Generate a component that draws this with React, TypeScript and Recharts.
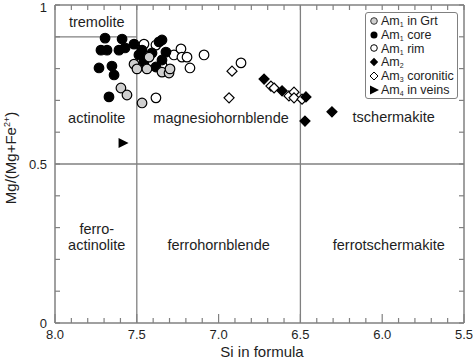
import React from "react";
import { ScatterChart, Scatter, XAxis, YAxis, ReferenceLine, ReferenceDot, Legend } from "recharts";

const FONT = '"Liberation Sans", Arial, sans-serif';
const AXIS = "#808080";
const INK = "#1e1e1e";

// tick positions (Si reversed, 8.0 -> 5.5)
const X_TICKS = [8.0, 7.9, 7.8, 7.7, 7.6, 7.5, 7.4, 7.3, 7.2, 7.1, 7.0, 6.9, 6.8, 6.7, 6.6, 6.5, 6.4, 6.3, 6.2, 6.1, 6.0, 5.9, 5.8, 5.7, 5.6, 5.5];
const X_LABELED = [8.0, 7.5, 7.0, 6.5, 6.0, 5.5];
const Y_TICKS = [0, 0.1, 0.2, 0.3, 0.4, 0.5, 0.6, 0.7, 0.8, 0.9, 1];
const Y_LABELED = [0, 0.5, 1];

// classification boundaries
const SI_BOUNDS = [7.5, 6.5];
const MG_BOUND = 0.5;
const TREMOLITE_MG = 0.9;

const FIELDS = [
  { name: "tremolite", si: 7.745, mg: 0.948 },
  { name: "actinolite", si: 7.745, mg: 0.645 },
  { name: "magnesiohornblende", si: 6.985, mg: 0.645 },
  { name: "tschermakite", si: 5.93, mg: 0.647 },
  { name: "ferro-", si: 7.745, mg: 0.296 },
  { name: "actinolite", si: 7.745, mg: 0.245 },
  { name: "ferrohornblende", si: 7.0, mg: 0.245 },
  { name: "ferrotschermakite", si: 5.96, mg: 0.245 },
];

const AM1_GRT = [
  { si: 7.517, mg: 0.814 }, { si: 7.499, mg: 0.799 }, { si: 7.438, mg: 0.799 }, { si: 7.425, mg: 0.836 },
  { si: 7.346, mg: 0.789 }, { si: 7.303, mg: 0.786 }, { si: 7.297, mg: 0.799 }, { si: 7.597, mg: 0.739 },
  { si: 7.56, mg: 0.717 }, { si: 7.468, mg: 0.692 },
];

const AM1_CORE = [
  { si: 7.694, mg: 0.896 }, { si: 7.59, mg: 0.893 }, { si: 7.719, mg: 0.858 }, { si: 7.682, mg: 0.858 },
  { si: 7.609, mg: 0.858 }, { si: 7.572, mg: 0.865 }, { si: 7.517, mg: 0.877 }, { si: 7.731, mg: 0.802 },
  { si: 7.652, mg: 0.808 }, { si: 7.639, mg: 0.78 }, { si: 7.67, mg: 0.711 }, { si: 7.468, mg: 0.858 },
  { si: 7.456, mg: 0.821 }, { si: 7.407, mg: 0.849 }, { si: 7.364, mg: 0.884 }, { si: 7.346, mg: 0.89 },
  { si: 7.322, mg: 0.852 }, { si: 7.383, mg: 0.805 }, { si: 7.346, mg: 0.827 }, { si: 7.487, mg: 0.843 },
];

const AM1_RIM = [
  { si: 7.456, mg: 0.877 }, { si: 7.383, mg: 0.874 }, { si: 7.346, mg: 0.811 }, { si: 7.273, mg: 0.843 },
  { si: 7.23, mg: 0.862 }, { si: 7.224, mg: 0.836 }, { si: 7.193, mg: 0.836 }, { si: 7.175, mg: 0.802 },
  { si: 7.089, mg: 0.843 }, { si: 7.383, mg: 0.708 }, { si: 6.863, mg: 0.818 },
];

const AM2 = [
  { si: 6.722, mg: 0.767 }, { si: 6.612, mg: 0.73 }, { si: 6.466, mg: 0.711 }, { si: 6.472, mg: 0.635 },
  { si: 6.307, mg: 0.664 },
];

const AM3 = [
  { si: 6.918, mg: 0.792 }, { si: 6.936, mg: 0.708 }, { si: 6.68, mg: 0.745 }, { si: 6.661, mg: 0.739 },
  { si: 6.57, mg: 0.714 }, { si: 6.539, mg: 0.726 }, { si: 6.539, mg: 0.708 }, { si: 6.49, mg: 0.704 },
];

const AM4 = [{ si: 7.584, mg: 0.566 }];

const same = (a: number, b: number) => Math.abs(a - b) < 1e-6;

// markers
const circle = (fill: string) => (p: any) => (
  <circle cx={p.cx} cy={p.cy} r={4.8} fill={fill} stroke="#000" strokeWidth={1.2} />
);
const diamond = (fill: string) => (p: any) => (
  <polygon
    points={`${p.cx},${p.cy - 5} ${p.cx + 5},${p.cy} ${p.cx},${p.cy + 5} ${p.cx - 5},${p.cy}`}
    fill={fill}
    stroke="#000"
    strokeWidth={1.2}
  />
);
const triangle = (p: any) => (
  <polygon points={`${p.cx - 4.5},${p.cy - 5} ${p.cx + 5.5},${p.cy} ${p.cx - 4.5},${p.cy + 5}`} fill="#000" />
);

const SERIES = [
  { key: "rim", data: AM1_RIM, shape: circle("#fff") },
  { key: "core", data: AM1_CORE, shape: circle("#000") },
  { key: "grt", data: AM1_GRT, shape: circle("#cfcfcf") },
  { key: "am3", data: AM3, shape: diamond("#fff") },
  { key: "am2", data: AM2, shape: diamond("#000") },
  { key: "am4", data: AM4, shape: triangle },
];

const LEGEND_ITEMS = [
  { sub: "1", text: " in Grt", marker: "grt" },
  { sub: "1", text: " core", marker: "core" },
  { sub: "1", text: " rim", marker: "rim" },
  { sub: "2", text: "", marker: "am2" },
  { sub: "3", text: " coronitic", marker: "am3" },
  { sub: "4", text: " in veins", marker: "am4" },
];

const LegendMarker = ({ kind }: { kind: string }) => {
  let el: React.ReactNode = null;
  if (kind === "grt") el = <circle cx={5} cy={5} r={3.3} fill="#cfcfcf" stroke="#333" strokeWidth={1} />;
  if (kind === "core") el = <circle cx={5} cy={5} r={3.5} fill="#000" />;
  if (kind === "rim") el = <circle cx={5} cy={5} r={3.3} fill="#fff" stroke="#000" strokeWidth={1} />;
  if (kind === "am2") el = <polygon points="5,0.8 9.2,5 5,9.2 0.8,5" fill="#000" />;
  if (kind === "am3") el = <polygon points="5,1 9,5 5,9 1,5" fill="#fff" stroke="#000" strokeWidth={1} />;
  if (kind === "am4") el = <polygon points="1,0.5 10,5 1,9.5" fill="#000" />;
  return (
    <svg width={10} height={10} style={{ marginRight: 2, flex: "none" }}>
      {el}
    </svg>
  );
};

const LegendBox = () => (
  <div
    style={{
      border: `1px solid ${AXIS}`,
      borderRadius: 3,
      background: "#fff",
      padding: "1px 3px 1px 3px",
      fontFamily: FONT,
      fontSize: 12.5,
      color: INK,
      boxSizing: "border-box",
      width: 93,
    }}
  >
    {LEGEND_ITEMS.map((it, i) => (
      <div key={i} style={{ display: "flex", alignItems: "center", height: 13.8, whiteSpace: "nowrap" }}>
        <LegendMarker kind={it.marker} />
        <span>
          Am<sub style={{ fontSize: 7, verticalAlign: "-2px" }}>{it.sub}</sub>
          {it.text}
        </span>
      </div>
    ))}
  </div>
);

const BottomTick = ({ x, y, payload }: any) => {
  const major = X_LABELED.some((t) => same(t, payload.value));
  return (
    <g>
      <line x1={x} x2={x} y1={y} y2={y - (major ? 9 : 5)} stroke={AXIS} strokeWidth={1.2} />
      {major && (
        <text x={x} y={y + 16} textAnchor="middle" fontSize={13} fill={INK} fontFamily={FONT}>
          {payload.value.toFixed(1)}
        </text>
      )}
    </g>
  );
};

const TopTick = ({ x, y }: any) => <line x1={x} x2={x} y1={y} y2={y + 5} stroke={AXIS} strokeWidth={1.2} />;

const LeftTick = ({ x, y, payload }: any) => {
  const labeled = Y_LABELED.some((t) => same(t, payload.value));
  return (
    <g>
      <line x1={x} x2={x + 5} y1={y} y2={y} stroke={AXIS} strokeWidth={1.2} />
      {labeled && (
        <text x={x - 8} y={y + 4.5 + (payload.value === 1 ? 2 : 0)} textAnchor="end" fontSize={13} fill={INK} fontFamily={FONT}>
          {String(payload.value)}
        </text>
      )}
    </g>
  );
};

const RightTick = ({ x, y }: any) => <line x1={x} x2={x - 5} y1={y} y2={y} stroke={AXIS} strokeWidth={1.2} />;

const YTitle = () => (
  <text x={15.5} y={158} transform="rotate(-90 15.5 158)" textAnchor="middle" fontSize={15} fill={INK} fontFamily={FONT}>
    Mg/(Mg+Fe
    <tspan dy={-6} fontSize={9}>2+</tspan>
    <tspan dy={6}>)</tspan>
  </text>
);

const XTitle = () => (
  <text x={262} y={357} textAnchor="middle" fontSize={15} fill={INK} fontFamily={FONT}>
    Si in formula
  </text>
);

export default function App() {
  return (
    <div style={{ position: "absolute", left: 0, top: 0, width: 474, height: 361, background: "#fff" }}>
      <ScatterChart width={474} height={361} margin={{ top: 0, right: 0, bottom: 0, left: 0 }} style={{ fontFamily: FONT }}>
        <XAxis
          type="number"
          dataKey="si"
          domain={[5.5, 8]}
          reversed
          allowDataOverflow
          ticks={X_TICKS}
          interval={0}
          height={38}
          tickSize={0}
          tickMargin={0}
          tickLine={false}
          axisLine={{ stroke: AXIS, strokeWidth: 1.5 }}
          tick={<BottomTick />}
          label={{ content: <XTitle /> }}
        />
        <XAxis
          xAxisId="top"
          orientation="top"
          type="number"
          dataKey="si"
          domain={[5.5, 8]}
          reversed
          allowDataOverflow
          ticks={X_TICKS}
          interval={0}
          height={5}
          tickSize={0}
          tickMargin={0}
          tickLine={false}
          axisLine={{ stroke: AXIS, strokeWidth: 1.5 }}
          tick={<TopTick />}
        />
        <YAxis
          type="number"
          dataKey="mg"
          domain={[0, 1]}
          allowDataOverflow
          ticks={Y_TICKS}
          interval={0}
          width={55}
          tickSize={0}
          tickMargin={0}
          tickLine={false}
          axisLine={{ stroke: AXIS, strokeWidth: 1.5 }}
          tick={<LeftTick />}
          label={{ content: <YTitle /> }}
        />
        <YAxis
          yAxisId="right"
          orientation="right"
          type="number"
          dataKey="mg"
          domain={[0, 1]}
          allowDataOverflow
          ticks={Y_TICKS}
          interval={0}
          width={10}
          tickSize={0}
          tickMargin={0}
          tickLine={false}
          axisLine={{ stroke: AXIS, strokeWidth: 1.5 }}
          tick={<RightTick />}
        />

        {SI_BOUNDS.map((s) => (
          <ReferenceLine key={s} x={s} stroke={AXIS} strokeWidth={1.3} />
        ))}
        <ReferenceLine y={MG_BOUND} stroke={AXIS} strokeWidth={1.3} />
        <ReferenceLine
          segment={[
            { x: 8, y: TREMOLITE_MG },
            { x: 7.5, y: TREMOLITE_MG },
          ]}
          stroke={AXIS}
          strokeWidth={1.3}
        />

        {FIELDS.map((f, i) => (
          <ReferenceDot
            key={i}
            x={f.si}
            y={f.mg}
            r={0}
            stroke="none"
            fill="none"
            label={{ value: f.name, position: "center", fill: INK, fontSize: 14.5, fontFamily: FONT }}
          />
        ))}

        {SERIES.map((s) => (
          <Scatter key={s.key} data={s.data} shape={s.shape} isAnimationActive={false} />
        ))}

        <Legend
          layout="vertical"
          align="center"
          verticalAlign="middle"
          wrapperStyle={{ top: 12, left: 365, width: 93 }}
          content={() => <LegendBox />}
        />
      </ScatterChart>
    </div>
  );
}
